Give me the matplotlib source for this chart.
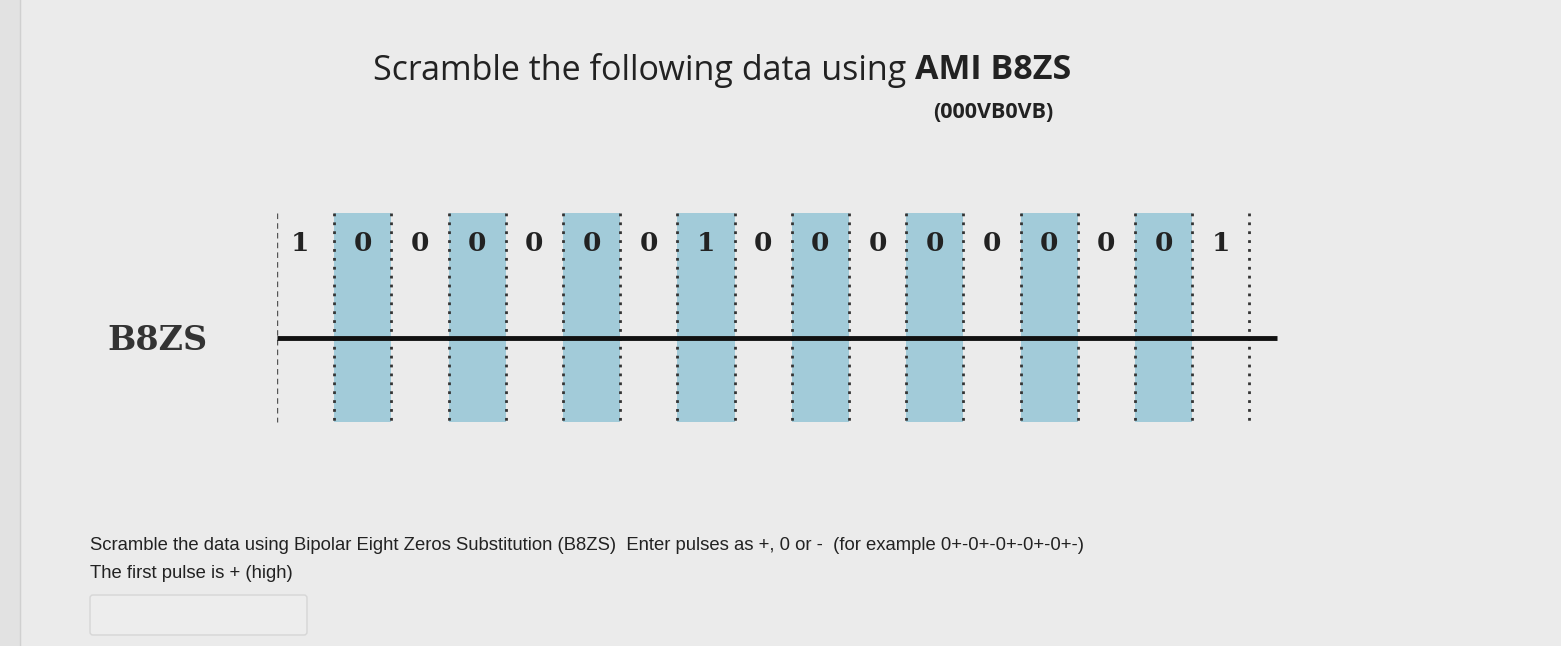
import matplotlib
matplotlib.use("Agg")
import matplotlib.pyplot as plt
from matplotlib.patches import Rectangle, FancyBboxPatch

bits = ["1","0","0","0","0","0","0","1","0","0","0","0","0","0","0","0","1"]
shaded = [1, 3, 5, 7, 9, 11, 13, 15]
title_normal = "Scramble the following data using "
title_bold = "AMI B8ZS"
subtitle = "(000VB0VB)"
signal_label = "B8ZS"
question1 = "Scramble the data using Bipolar Eight Zeros Substitution (B8ZS)  Enter pulses as +, 0 or -  (for example 0+-0+-0+-0+-0+-)"
question2 = "The first pulse is + (high)"

W, H = 1561, 646
fig = plt.figure(figsize=(W/100, H/100), dpi=100, facecolor="#ebebeb")
bg = fig.add_axes([0, 0, 1, 1]); bg.set_xlim(0, W); bg.set_ylim(H, 0); bg.axis("off")
bg.add_patch(Rectangle((0, 0), 20, H, color="#e2e2e2"))
bg.plot([20.5, 20.5], [0, H], color="#d0d0d0", lw=1)

t1 = bg.text(373, 70, title_normal, fontsize=24.5, family="Open Sans", va="center", color="#222")
fig.canvas.draw()
bb = t1.get_window_extent()
bg.text(bb.x1, H - (bb.y0 + bb.y1) / 2, title_bold, fontsize=24.5, family="Open Sans", weight="bold", va="center", color="#222")
bg.text(993, 113, subtitle, fontsize=15.5, family="Open Sans", weight="bold", ha="center", va="center", color="#222")
bg.text(157, 341, signal_label, fontsize=24, family="DejaVu Serif", weight="bold", ha="center", va="center", color="#333")
bg.text(90, 546, question1, fontsize=13.3, family="Liberation Sans", va="center", color="#222")
bg.text(90, 574, question2, fontsize=13.3, family="Liberation Sans", va="center", color="#222")
bg.add_patch(FancyBboxPatch((90, 595), 217, 40, boxstyle="round,pad=0,rounding_size=3",
                            fc="#ededed", ec="#d6d6d6", lw=1))

cw = 57.2
x0, x1 = 277, 1280
ax = fig.add_axes([x0/W, 1 - 430/H, (x1 - x0)/W, (430 - 205)/H])
ax.set_xlim(0, (x1 - x0)/cw); ax.set_ylim(430, 205); ax.axis("off")
for i in shaded:
    ax.add_patch(Rectangle((i, 213), 1, 209, color="#a2cbd9", lw=0))
n = len(bits)
for k in range(n + 1):
    if k == 0:
        ax.plot([k, k], [213, 422], color="#555", lw=1, ls=(0, (4, 3)))
    else:
        ax.plot([k, k], [213, 422], color="#333", lw=2, ls=(0, (1, 2.2)))
for i, b in enumerate(bits):
    ax.text(i + 0.5 - (0.1 if i == 0 else 0), 243, b, fontsize=19, family="DejaVu Serif",
            weight="bold", ha="center", va="center", color="#222")
ax.plot([0, (x1 - x0)/cw - 0.05], [338, 338], color="#111", lw=3.5, solid_capstyle="butt")

fig.savefig("out.png", dpi=100, facecolor=fig.get_facecolor())
